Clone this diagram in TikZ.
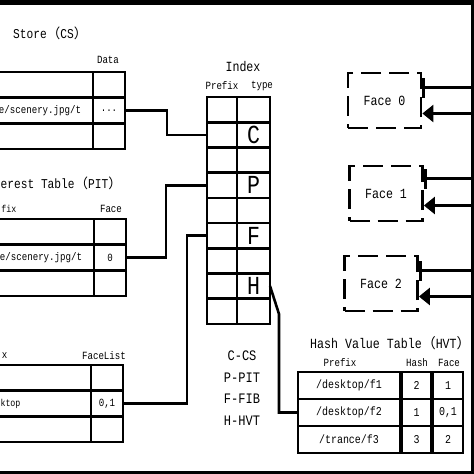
\documentclass[tikz,border=0pt]{standalone}
\usepackage{fontspec}
\setmainfont{Liberation Mono}[FakeStretch=0.83]
\newfontfamily\cjk{Noto Sans CJK SC}
\usetikzlibrary{positioning,arrows.meta}

\newcommand{\fwl}{{\cjk （}}
\newcommand{\fwr}{{\cjk ）}}

\tikzset{
  cell/.style={draw, line width=2.6pt, outer sep=0pt, inner sep=0pt,
    minimum height=25.7pt, font=\fontsize{11}{13}\selectfont},
  ixcell/.style={cell, minimum height=25.2pt, font=\fontsize{26}{28}\selectfont},
  hvcell/.style={cell, minimum height=27pt, font=\fontsize{12}{14}\selectfont},
  title/.style={inner sep=0pt, font=\fontsize{13.5}{15}\selectfont},
  head/.style={inner sep=0pt, font=\fontsize{11}{13}\selectfont},
  face/.style={draw, line width=2.8pt, dash pattern=on 20pt off 8pt,
    minimum width=73pt, minimum height=55pt, font=\fontsize{14}{16}\selectfont},
  wire/.style={line width=2.6pt},
}

\begin{document}
\begin{tikzpicture}[x=1pt, y=-1pt]
  \useasboundingbox (0,0) rectangle (474,474);
  \clip (0,0) rectangle (474,474);

  % Frame
  \draw[line width=5pt] (-20,2) rectangle (473.5,473.5);
  \coordinate (frameR) at (472,0);

  % Content Store
  \node[title, anchor=west] (cstitle) at (13,33) {Store\fwl CS\fwr};
  \node[head] (csdata) at (108,60) {Data};
  \node[cell, minimum width=106pt, anchor=north west] (cs1) at (-13,72) {};
  \node[cell, minimum width=32pt, right=0pt of cs1] (cs1d) {};
  \node[cell, minimum width=106pt, below=0pt of cs1] (cs2) {e/scenery.jpg/t};
  \node[cell, minimum width=32pt, right=0pt of cs2] (cs2d) {...};
  \node[cell, minimum width=106pt, below=0pt of cs2] (cs3) {};
  \node[cell, minimum width=32pt, right=0pt of cs3] (cs3d) {};

  % Pending Interest Table
  \node[title, anchor=east] (pittitle) at (122,183) {erest Table\fwl PIT\fwr};
  \node[head, anchor=east, font=\fontsize{10}{12}\selectfont] (pitfix) at (16.5,209) {fix};
  \node[head] (pitface) at (111,209) {Face};
  \node[cell, minimum width=106pt, anchor=north west] (pit1) at (-12,219) {};
  \node[cell, minimum width=32pt, right=0pt of pit1] (pit1d) {};
  \node[cell, minimum width=106pt, below=0pt of pit1] (pit2) {e/scenery.jpg/t};
  \node[cell, minimum width=32pt, right=0pt of pit2] (pit2d) {0};
  \node[cell, minimum width=106pt, below=0pt of pit2] (pit3) {};
  \node[cell, minimum width=32pt, right=0pt of pit3] (pit3d) {};

  % FIB
  \node[head, anchor=east] (fibfix) at (7.5,356) {x};
  \node[head] (fibface) at (104,356) {FaceList};
  \node[cell, minimum width=161pt, anchor=north west] (fib1) at (-70,365) {};
  \node[cell, minimum width=32pt, right=0pt of fib1] (fib1d) {};
  \node[cell, minimum width=161pt, below=0pt of fib1, font=\fontsize{10}{12}\selectfont] (fib2) {ktop};
  \node[cell, minimum width=32pt, right=0pt of fib2] (fib2d) {0,1};
  \node[cell, minimum width=161pt, below=0pt of fib2] (fib3) {};
  \node[cell, minimum width=32pt, right=0pt of fib3] (fib3d) {};

  % Index
  \node[title, font=\fontsize{14}{16}\selectfont] (ixtitle) at (243,67) {Index};
  \node[head] (ixprefix) at (222,86) {Prefix};
  \node[head] (ixtype) at (262,86) {type};
  \node[ixcell, minimum width=30pt, anchor=north west] (ix1) at (207,97) {};
  \node[ixcell, minimum width=33pt, right=0pt of ix1] (it1) {};
  \node[ixcell, minimum width=30pt, below=0pt of ix1] (ix2) {};
  \node[ixcell, minimum width=33pt, right=0pt of ix2] (it2) {C};
  \node[ixcell, minimum width=30pt, below=0pt of ix2] (ix3) {};
  \node[ixcell, minimum width=33pt, right=0pt of ix3] (it3) {};
  \node[ixcell, minimum width=30pt, below=0pt of ix3] (ix4) {};
  \node[ixcell, minimum width=33pt, right=0pt of ix4] (it4) {P};
  \node[ixcell, minimum width=30pt, below=0pt of ix4] (ix5) {};
  \node[ixcell, minimum width=33pt, right=0pt of ix5] (it5) {};
  \node[ixcell, minimum width=30pt, below=0pt of ix5] (ix6) {};
  \node[ixcell, minimum width=33pt, right=0pt of ix6] (it6) {F};
  \node[ixcell, minimum width=30pt, below=0pt of ix6] (ix7) {};
  \node[ixcell, minimum width=33pt, right=0pt of ix7] (it7) {};
  \node[ixcell, minimum width=30pt, below=0pt of ix7] (ix8) {};
  \node[ixcell, minimum width=33pt, right=0pt of ix8] (it8) {H};
  \node[ixcell, minimum width=30pt, below=0pt of ix8] (ix9) {};
  \node[ixcell, minimum width=33pt, right=0pt of ix9] (it9) {};

  \node[align=center, font=\fontsize{14.5}{21.7}\selectfont] (legend) at (242,388)
    {C-CS\\P-PIT\\F-FIB\\H-HVT};

  % Hash Value Table
  \node[title, anchor=west, font=\fontsize{14}{16}\selectfont] (hvtitle) at (310,343) {Hash Value Table\fwl HVT\fwr};
  \node[head] (hvprefix) at (340,363) {Prefix};
  \node[head] (hvhash) at (417,363) {Hash};
  \node[head] (hvface) at (449,363) {Face};
  \node[hvcell, minimum width=102pt, anchor=north west] (hv1) at (298,372) {/desktop/f1};
  \node[hvcell, minimum width=30pt, right=1.5pt of hv1] (hh1) {2};
  \node[hvcell, minimum width=30pt, right=1.5pt of hh1] (hf1) {1};
  \node[hvcell, minimum width=102pt, below=0pt of hv1] (hv2) {/desktop/f2};
  \node[hvcell, minimum width=30pt, right=1.5pt of hv2] (hh2) {1};
  \node[hvcell, minimum width=30pt, right=1.5pt of hh2] (hf2) {0,1};
  \node[hvcell, minimum width=102pt, below=0pt of hv2] (hv3) {/trance/f3};
  \node[hvcell, minimum width=30pt, right=1.5pt of hv3] (hh3) {3};
  \node[hvcell, minimum width=30pt, right=1.5pt of hh3] (hf3) {2};

  % Faces
  \node[face] (face0) at (384.5,100.5) {Face 0};
  \node[face] (face1) at (386,193.5) {Face 1};
  \node[face] (face2) at (381,283.5) {Face 2};

  % Edges
  \draw[wire] (cs2d.east) -- ++(42,0) |- (ix2.west);
  \draw[wire] (pit2d.east) -- ++(40,0) |- (ix4.west);
  \draw[wire] (fib2d.east) -- ++(64,0) |- (ix6.west);
  \draw[wire] (it8.east) -- ++(9,28) |- (hv2.west);

  \draw[wire, {Bar[width=20pt]}-] ([yshift=13pt]face0.east) -- ([yshift=13pt]face0.east -| frameR);
  \draw[wire, -{Triangle[length=11pt,width=17pt]}] ([yshift=-13pt]face0.east -| frameR) -- ([yshift=-13pt]face0.east);
  \draw[wire, {Bar[width=20pt]}-] ([yshift=15pt]face1.east) -- ([yshift=15pt]face1.east -| frameR);
  \draw[wire, -{Triangle[length=11pt,width=17pt]}] ([yshift=-12pt]face1.east -| frameR) -- ([yshift=-12pt]face1.east);
  \draw[wire, {Bar[width=20pt]}-] ([yshift=13pt]face2.east) -- ([yshift=13pt]face2.east -| frameR);
  \draw[wire, -{Triangle[length=11pt,width=17pt]}] ([yshift=-13pt]face2.east -| frameR) -- ([yshift=-13pt]face2.east);
\end{tikzpicture}
\end{document}
